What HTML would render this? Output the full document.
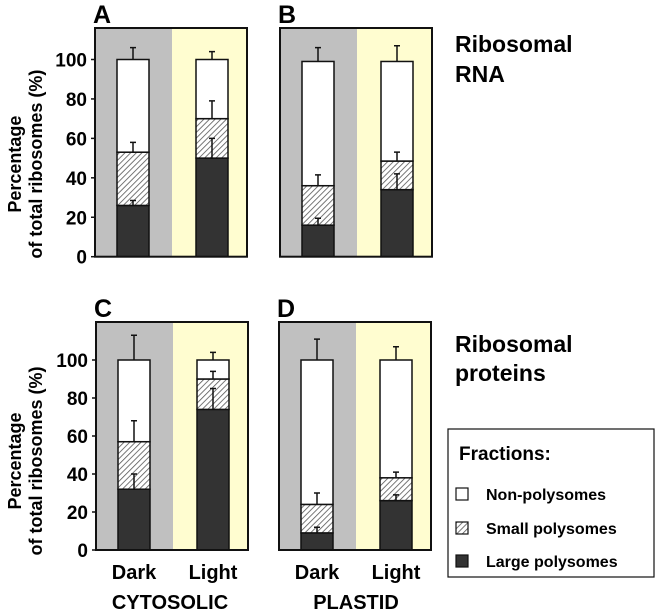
<!DOCTYPE html>
<html><head><meta charset="utf-8"><style>
body{margin:0;background:#fff}
svg{display:block;font-family:"Liberation Sans",Arial,sans-serif;font-weight:bold}
</style></head><body>
<svg id="c" width="656" height="613" viewBox="0 0 656 613">
<defs><pattern id="hatch" patternUnits="userSpaceOnUse" width="4" height="4" patternTransform="rotate(45)"><rect width="4" height="4" fill="#fff"/><line x1="0" y1="0" x2="0" y2="4" stroke="#555" stroke-width="1.6"/></pattern></defs>
</svg>
<script>
const panelNames = ['A','B','C','D'];
const conditions = ['Dark','Light'];
const largeVals = [[26,50],[16,34],[32,74],[9,26]];
const smallTopVals = [[53,70],[36,48.5],[57,90],[24,38]];
const totalVals = [[100,100],[99,99],[100,100],[100,100]];
const largeErr = [[28.5,60],[19.5,42],[40,85],[12,29]];
const smallErr = [[58,79],[41.5,53],[68,94],[30,41]];
const totalErr = [[106,104],[106,107],[113,104],[111,107]];
const yTicks = [0,20,40,60,80,100];

const svg = document.getElementById('c');
const NS = 'http://www.w3.org/2000/svg';
function mk(tag, attrs, parent){const e=document.createElementNS(NS,tag);for(const k in attrs)e.setAttribute(k,attrs[k]);(parent||svg).appendChild(e);return e;}
const layout = [{x:95,top:28,y0:256.7,y100:59.5},{x:280,top:28,y0:256.7,y100:59.5},{x:96,top:322,y0:550,y100:360},{x:279,top:322,y0:550,y100:360}];
const FW=152, GW=77, BW=32, OFF=[22,101];

panelNames.forEach((p,i)=>{
  const L=layout[i];
  const y=v=>L.y0+(L.y100-L.y0)*v/100;
  const g=mk('g',{});
  
  
  const bg1=mk('rect',{x:L.x,y:L.top,width:GW,height:L.y0-L.top,fill:'#c0c0c0'},g);
  
  const bg2=mk('rect',{x:L.x+GW,y:L.top,width:FW-GW,height:L.y0-L.top,fill:'#fffdd0'},g);
  
  for(let j=0;j<2;j++){
    const bx=L.x+OFF[j], cx=bx+BW/2;
    const segs=[[0,largeVals[i][j],'#333333','large'],[largeVals[i][j],smallTopVals[i][j],'url(#hatch)','small'],[smallTopVals[i][j],totalVals[i][j],'#ffffff','non']];
    const errs=[largeErr[i][j],smallErr[i][j],totalErr[i][j]];
    segs.forEach((s,k)=>{
      const r=mk('rect',{x:bx,y:y(s[1]),width:BW,height:y(s[0])-y(s[1]),fill:s[2],stroke:'#111','stroke-width':1.5},g);
      
      
    });
    segs.forEach((s,k)=>{
      const e=mk('path',{d:`M${cx},${y(s[1])}V${y(errs[k])}M${cx-3},${y(errs[k])}H${cx+3}`,stroke:'#111','stroke-width':1.5,fill:'none'},g);
      
      
    });
  }
  const f=mk('rect',{x:L.x,y:L.top,width:FW,height:L.y0-L.top,fill:'none',stroke:'#111','stroke-width':2},g);
  
  const t=mk('text',{x:L.x-2,y:L.top-5,'font-size':25},g);t.textContent=p;
  
  if(i%2===0){
    yTicks.forEach(v=>{
      const tl=mk('text',{x:L.x-8,y:y(v)+7,'font-size':19,'text-anchor':'end'},g);tl.textContent=v;
      
      mk('line',{x1:L.x-4,x2:L.x,y1:y(v),y2:y(v),stroke:'#111','stroke-width':1.5},g);
    });
    const cy=(L.y0+L.y100)/2+6;
    const yt=mk('text',{transform:`translate(21,${cy}) rotate(-90)`,'font-size':18,'text-anchor':'middle'},g);
    
    const t1=mk('tspan',{x:0,y:0},yt);t1.textContent='Percentage';
    const t2=mk('tspan',{x:0,y:21},yt);t2.textContent='of total ribosomes (%)';
  }
  if(i>=2){
    conditions.forEach((c,j)=>{
      const xl=mk('text',{x:L.x+OFF[j]+BW/2,y:579,'font-size':20,'text-anchor':'middle'},g);xl.textContent=c;
      
    });
  }
});
</script>
<svg style="position:absolute;left:0;top:0" width="656" height="613" font-family="Liberation Sans, Arial, sans-serif" font-weight="bold">
<text x="170" y="609" font-size="20" text-anchor="middle">CYTOSOLIC</text>
<text x="356" y="609" font-size="20" text-anchor="middle">PLASTID</text>
<text x="455" y="52" font-size="23">Ribosomal<tspan x="455" y="82">RNA</tspan></text>
<text x="455" y="352" font-size="23">Ribosomal<tspan x="455" y="381">proteins</tspan></text>
<g>
<rect x="448" y="429" width="206" height="148" fill="#fff" stroke="#111" stroke-width="1.2"/>
<text x="459" y="460" font-size="19">Fractions:</text>
<rect x="456" y="488" width="12" height="12" fill="#fff" stroke="#111" stroke-width="1.2"/>
<text x="486" y="500" font-size="16">Non-polysomes</text>
<rect x="456" y="522" width="12" height="12" fill="url(#hatch)" stroke="#111" stroke-width="1.2"/>
<text x="486" y="534" font-size="16">Small polysomes</text>
<rect x="456" y="555" width="12" height="12" fill="#333" stroke="#111" stroke-width="1.2"/>
<text x="486" y="567" font-size="16">Large polysomes</text>
</g>
</svg>
</body></html>
